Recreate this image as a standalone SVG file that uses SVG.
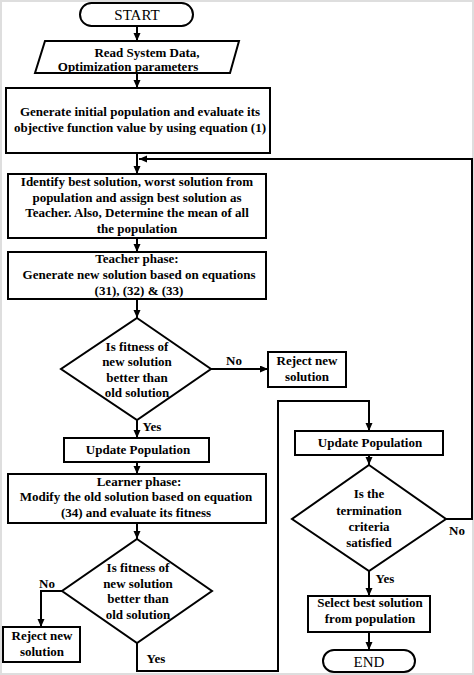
<svg xmlns="http://www.w3.org/2000/svg" width="474" height="675" viewBox="0 0 474 675">
<defs>
<marker id="ah" markerUnits="userSpaceOnUse" markerWidth="9" markerHeight="8" refX="8" refY="3.5" orient="auto">
<path d="M0,0 L8,3.5 L0,7 z" fill="#000"/>
</marker>
<style>
.b{fill:#fff;stroke:#000;stroke-width:2}
.c{fill:none;stroke:#000;stroke-width:2}
.a{marker-end:url(#ah)}
text{font-family:"Liberation Serif","Times New Roman",serif;font-size:13px;font-weight:bold;fill:#000;text-anchor:middle}
.r{font-weight:normal;font-size:15px}
</style>
</defs>
<rect x="0" y="0" width="474" height="675" fill="#fff"/>
<rect x="1" y="1" width="472" height="673" fill="none" stroke="#dedede" stroke-width="2"/>

<g id="connectors">
<line class="c a" x1="137" y1="26" x2="137" y2="41"/>
<line class="c a" x1="137" y1="73" x2="137" y2="88"/>
<line class="c a" x1="137" y1="153" x2="137" y2="174"/>
<polyline class="c a" points="446,519 472,519 472,159 139,159"/>
<line class="c a" x1="137" y1="238" x2="137" y2="252"/>
<line class="c a" x1="137" y1="299" x2="137" y2="318"/>
<line class="c a" x1="211" y1="369" x2="268" y2="369"/>
<line class="c a" x1="137" y1="420" x2="137" y2="438"/>
<line class="c a" x1="137" y1="462" x2="137" y2="474"/>
<line class="c a" x1="137" y1="523" x2="137" y2="539"/>
<polyline class="c a" points="62,591 41,591 41,627"/>
<polyline class="c a" points="137,643 137,671 278,671 278,401 369,401 369,431"/>
<line class="c a" x1="369" y1="455" x2="369" y2="465"/>
<line class="c a" x1="369" y1="571" x2="369" y2="596"/>
<line class="c a" x1="369" y1="632" x2="369" y2="650"/>
<text x="234" y="365">No</text>
<text x="152" y="431">Yes</text>
<text x="47" y="588">No</text>
<text x="156" y="663">Yes</text>
<text x="457" y="535">No</text>
<text x="385" y="583">Yes</text>
</g>

<g id="start">
<rect class="b" x="80" y="3" width="113" height="23" rx="11.5"/>
<text class="r" x="137" y="20">START</text>
</g>

<g id="read">
<polygon class="b" points="45,41 239,41 230,73 35,73"/>
<text x="147" y="57">Read System Data,</text>
<text x="128" y="73" dy="-2">Optimization parameters</text>
</g>

<g id="generate">
<rect class="b" x="6" y="88" width="264" height="65"/>
<text x="140" y="116">Generate initial population and evaluate its</text>
<text x="140" y="132">objective function value by using equation (1)</text>
</g>

<g id="identify">
<rect class="b" x="8" y="174" width="258" height="64"/>
<text x="137" y="186">Identify best solution, worst solution from</text>
<text x="137" y="202">population and assign best solution as</text>
<text x="137" y="217">Teacher. Also, Determine the mean of all</text>
<text x="137" y="233">the population</text>
</g>

<g id="teacher">
<rect class="b" x="8" y="252" width="258" height="47"/>
<text x="137" y="263">Teacher phase:</text>
<text x="139" y="279">Generate new solution based on equations</text>
<text x="139" y="295">(31), (32) &amp; (33)</text>
</g>

<g id="decision1">
<polygon class="b" points="137,318 211,369 137,420 61,369"/>
<text x="137" y="351">Is fitness of</text>
<text x="137" y="366">new solution</text>
<text x="137" y="382">better than</text>
<text x="137" y="397">old solution</text>
</g>

<g id="reject1">
<rect class="b" x="268" y="352" width="78" height="35"/>
<text x="307" y="365">Reject new</text>
<text x="307" y="381">solution</text>
</g>

<g id="update1">
<rect class="b" x="64" y="438" width="145" height="24"/>
<text x="138" y="454">Update Population</text>
</g>

<g id="learner">
<rect class="b" x="8" y="474" width="258" height="49"/>
<text x="139" y="486">Learner phase:</text>
<text x="136" y="501">Modify the old solution based on equation</text>
<text x="136" y="517">(34) and evaluate its fitness</text>
</g>

<g id="decision2">
<polygon class="b" points="137,539 212,591 137,643 62,591"/>
<text x="138" y="572">Is fitness of</text>
<text x="138" y="588">new solution</text>
<text x="138" y="603">better than</text>
<text x="138" y="619">old solution</text>
</g>

<g id="reject2">
<rect class="b" x="3" y="627" width="77" height="35"/>
<text x="42" y="640">Reject new</text>
<text x="42" y="656">solution</text>
</g>

<g id="update2">
<rect class="b" x="295" y="431" width="148" height="24"/>
<text x="370" y="447">Update Population</text>
</g>

<g id="decision3">
<polygon class="b" points="369,465 446,519 369,571 292,519"/>
<text x="369" y="498">Is the</text>
<text x="369" y="515">termination</text>
<text x="369" y="531">criteria</text>
<text x="369" y="547">satisfied</text>
</g>

<g id="select">
<rect class="b" x="308" y="596" width="122" height="36"/>
<text x="370" y="607">Select best solution</text>
<text x="370" y="623">from population</text>
</g>

<g id="end">
<rect class="b" x="323" y="650" width="92" height="22" rx="11"/>
<text class="r" x="369" y="667">END</text>
</g>
</svg>
